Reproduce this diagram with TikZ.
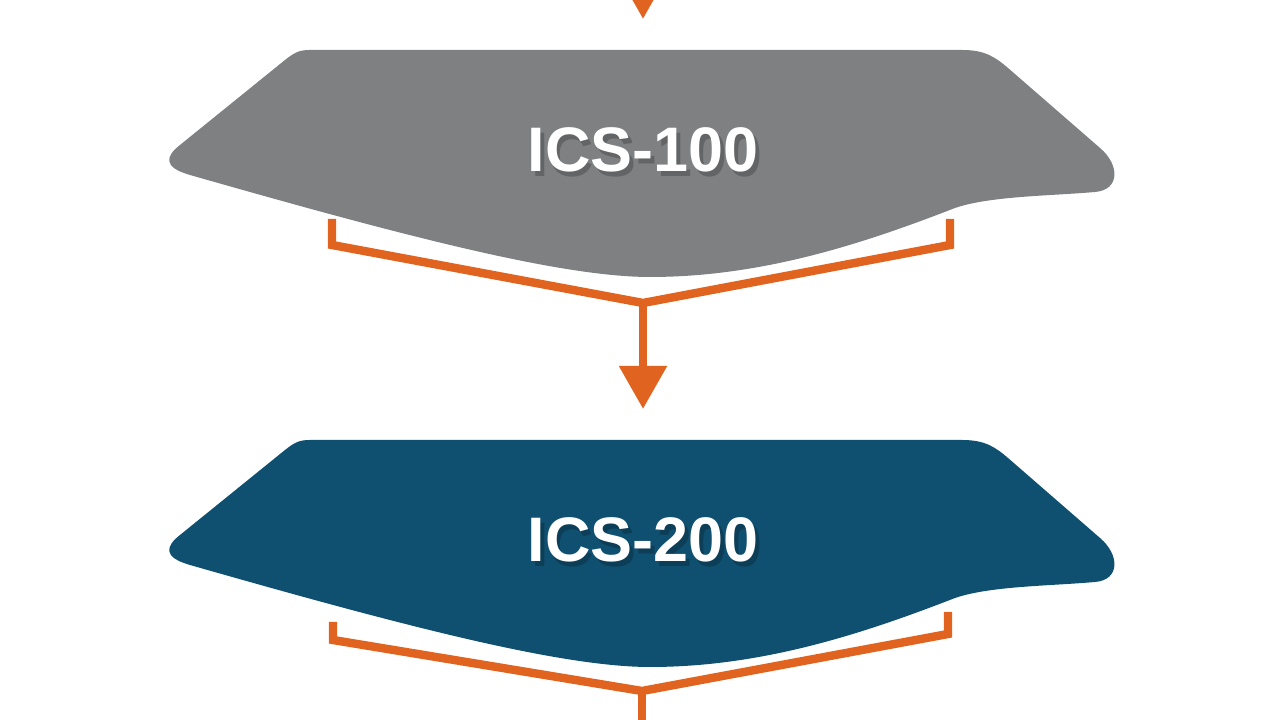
\documentclass[tikz,border=0pt]{standalone}
\usepackage{fontspec}
\setmainfont{Liberation Sans}
\usetikzlibrary{arrows.meta}
\definecolor{icsgray}{HTML}{7E8082}
\definecolor{icsblue}{HTML}{0F4F70}
\definecolor{icsorange}{HTML}{E0641F}
\newcommand{\shadowtext}[2]{\makebox[0pt][l]{\hspace{1.1pt}\raisebox{-1.3pt}{\textcolor{#1}{#2}}}#2}
\begin{document}
\begin{tikzpicture}[line join=miter, >={Triangle[length=4.3mm,width=4.6mm]},
  link/.style={draw=icsorange, line width=2.4pt},
  lbl/.style={text=white, inner sep=0pt, font=\fontsize{17.9}{20}\selectfont\bfseries}]
 \useasboundingbox (0,0) rectangle (12.8,7.2);
 % connectors
 \coordinate (s0) at (6.43,7.8);
 \coordinate (t0) at (6.43,7.01);
 \draw[link,->] (s0)--(t0);
 \coordinate (l1) at (3.32,5.01);
 \coordinate (lc1) at (3.32,4.75);
 \coordinate (j1) at (6.43,4.17);
 \coordinate (rc1) at (9.50,4.75);
 \coordinate (r1) at (9.50,5.01);
 \coordinate (t1) at (6.43,3.11);
 \draw[link] (l1)--(lc1)--(j1)--(rc1)--(r1);
 \draw[link,->] (j1)--(t1);
 \coordinate (l2) at (3.33,0.98);
 \coordinate (lc2) at (3.33,0.80);
 \coordinate (j2) at (6.42,0.29);
 \coordinate (rc2) at (9.48,0.86);
 \coordinate (r2) at (9.48,1.08);
 \coordinate (s2) at (6.42,-0.4);
 \draw[link] (l2)--(lc2)--(j2)--(rc2)--(r2);
 \draw[link] (j2)--(s2);
 % stages
 \foreach \yy/\col/\nm/\txt in {0/icsgray/ics100/ICS-100, -3.9/icsblue/ics200/ICS-200}{
 \begin{scope}[shift={(0,\yy)}]
 \fill[\col] (3.10,6.70) -- (9.62,6.70)
   .. controls (9.85,6.70) and (9.95,6.63) .. (10.08,6.52) -- (11.00,5.72)
   .. controls (11.20,5.55) and (11.20,5.30) .. (10.95,5.28)
   .. controls (10.50,5.24) and (9.90,5.24) .. (9.55,5.12)
   .. controls (8.60,4.75) and (7.60,4.43) .. (6.50,4.43)
   .. controls (5.60,4.43) and (4.00,4.85) .. (1.90,5.45)
   .. controls (1.62,5.53) and (1.66,5.64) .. (1.80,5.75) -- (2.85,6.60)
   .. controls (2.95,6.68) and (3.00,6.70) .. (3.10,6.70) -- cycle;
 \node[lbl] (\nm) at (6.43,5.675) {\shadowtext{\col!78!black}{\txt}};
 \end{scope}
 }
\end{tikzpicture}
\end{document}
